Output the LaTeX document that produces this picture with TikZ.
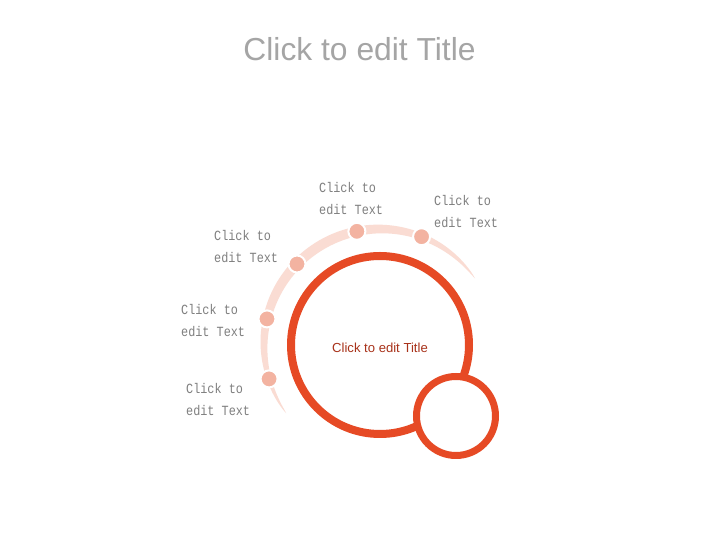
\documentclass[tikz,border=0pt]{standalone}
\usepackage{fontspec}
\setmainfont{Liberation Sans}
\newfontfamily\lblfont[FakeStretch=0.845]{Liberation Mono}
\usepackage{tikz}

\definecolor{ringred}{HTML}{E64A25}
\definecolor{arcpink}{HTML}{FADCD3}
\definecolor{dotpink}{HTML}{F3B3A1}
\definecolor{titlegray}{HTML}{A5A5A5}
\definecolor{lblgray}{HTML}{7F7F7F}
\definecolor{innerred}{HTML}{A8321A}

\begin{document}
\begin{tikzpicture}[
			x=1pt, y=1pt,
			lblfont/.style={font=\lblfont\fontsize{14}{22}\selectfont, text=lblgray, align=left, anchor=west, inner sep=0pt},
			dotnode/.style={circle, fill=dotpink, draw=white, line width=2pt, minimum size=17pt, inner sep=0pt}
		]
		% 背景和标题
		\fill[white] (0, 0) rectangle (721, 540);
		\useasboundingbox (0, 0) rectangle (721, 540);
		\node[font=\fontsize{31.8}{36}\selectfont, text=titlegray] (title) at (359.5, 491) {Click to edit Title};

		% 两端渐细的浅色圆弧
		\begin{scope}[shift={(380, 195)}]
			\fill[arcpink] plot[domain=35:216, samples=90] (\x:{116+5*pow(sin((\x-35)/181*180),0.7)})
				-- plot[domain=216:35, samples=90] (\x:{116-5*pow(sin((\x-35)/181*180),0.7)}) -- cycle;
			\foreach \ang [count=\i] in {101.5, 69, 135.7, 167, 197}
				\node[dotnode] (dot\i) at (\ang:116) {};
		\end{scope}

		% 大圆和小圆
		\draw[ringred, line width=8pt] (380, 195) circle (89);
		\node[text=innerred, font=\fontsize{13.1}{15}\selectfont] (maintitle) at (380, 192) {Click to edit Title};
		\filldraw[fill=white, draw=ringred, line width=7pt] (456, 124) circle (39.5);

		% 文字
		\node[lblfont] (lbl1) at (319, 341) {Click to\\edit Text};
		\node[lblfont] (lbl2) at (434, 328) {Click to\\edit Text};
		\node[lblfont] (lbl3) at (214, 293) {Click to\\edit Text};
		\node[lblfont] (lbl4) at (181, 219) {Click to\\edit Text};
		\node[lblfont] (lbl5) at (186, 140) {Click to\\edit Text};
	\end{tikzpicture}
\end{document}
